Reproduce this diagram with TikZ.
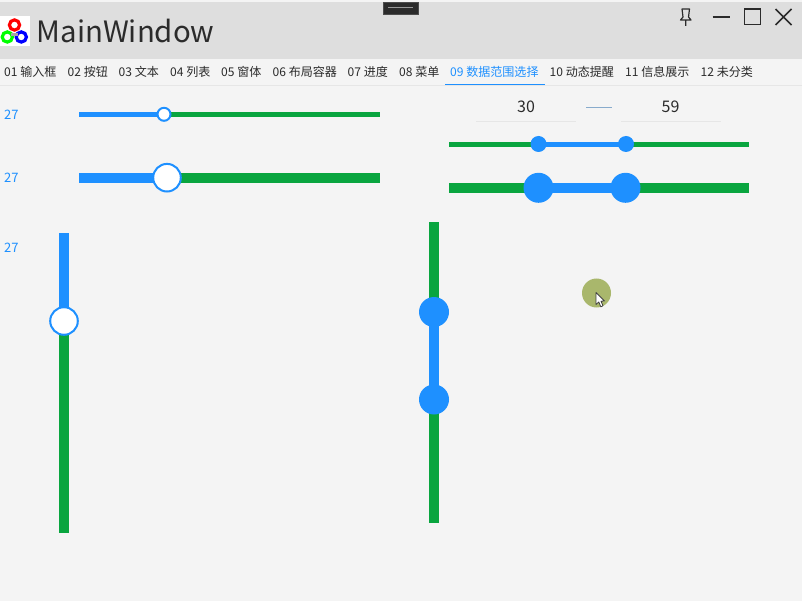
\documentclass[tikz,border=0pt]{standalone}
\usepackage{fontspec}
\setmainfont{Noto Sans CJK SC}
\definecolor{trackblue}{HTML}{1E90FF}
\definecolor{trackgreen}{HTML}{09A53F}
\definecolor{pagegray}{HTML}{F4F4F4}
\definecolor{titlegray}{HTML}{DEDEDE}
\definecolor{rulegray}{HTML}{E6E6E6}
\definecolor{inkgray}{HTML}{2B2B2B}
\definecolor{pointergreen}{HTML}{A9B76C}
\tikzset{
	tabtext/.style={anchor=base west, inner sep=0pt, text=inkgray, font=\fontsize{12.05}{14}\selectfont},
	valtext/.style={anchor=base west, inner sep=0pt, text=trackblue, font=\fontsize{13}{14}\selectfont},
	boxtext/.style={inner sep=0pt, text=inkgray, font=\fontsize{16}{18}\selectfont},
	thinknob/.style={draw=trackblue, line width=2pt, fill=white},
	fullknob/.style={fill=trackblue},
	ctrl/.style={draw=inkgray, line width=1.6pt}
}

\begin{document}
\begin{tikzpicture}[x=1pt, y=-1pt]
			\useasboundingbox (0, 0) rectangle (802, 601);
			%%%%% WINDOW %%%%%
			\fill[pagegray] (0, 0) rectangle (802, 601);
			\fill[titlegray] (0, 2) rectangle (802, 59);
			\fill[rulegray] (0, 85.5) rectangle (802, 86.5);
			\draw[fill=inkgray, draw=black!70] (383.5, 2.5) rectangle (418, 14);
			\draw[black!40, line width=1pt] (388, 8) -- (413, 8);

			%%%%% ICON %%%%%
			\fill[white] (0, 16) rectangle (30, 46.5);
			\draw[red, line width=3.2pt] (14.5, 25) circle (5.1);
			\draw[green, line width=3.2pt] (7.3, 37) circle (5.1);
			\draw[blue, line width=3.2pt] (21.3, 37) circle (5.1);
			\fill[black!35] (10.5, 33.5) rectangle (18, 36.5);

			\node[anchor=base west, inner sep=0pt, text=inkgray, font=\fontsize{29.4}{34}\selectfont] (title) at (36.5, 43) {MainWindow};

			%%%%% CONTROLS %%%%%
			\draw[ctrl, line width=1.2pt, line join=round] (682, 9) -- (689.5, 9) -- (688.5, 17) -- (691, 20) -- (680.5, 20) -- (683, 17) -- cycle (685.7, 20) -- (685.7, 26);
			\draw[ctrl] (712.5, 17) -- (730, 17);
			\draw[ctrl] (744.5, 9) rectangle (760.5, 24.5);
			\draw[ctrl] (775.5, 9) -- (791.5, 25) (791.5, 9) -- (775.5, 25);

			%%%%% TABS %%%%%
			\node[tabtext] (tabA) at (4, 76.5) {01 输入框};
			\node[tabtext] (tabB) at (67.5, 76.5) {02 按钮};
			\node[tabtext] (tabC) at (118.5, 76.5) {03 文本};
			\node[tabtext] (tabD) at (170, 76.5) {04 列表};
			\node[tabtext] (tabE) at (221, 76.5) {05 窗体};
			\node[tabtext] (tabF) at (272.5, 76.5) {06 布局容器};
			\node[tabtext] (tabG) at (347.5, 76.5) {07 进度};
			\node[tabtext] (tabH) at (399, 76.5) {08 菜单};
			\node[tabtext, text=trackblue] (tabI) at (450, 76.5) {09 数据范围选择};
			\node[tabtext] (tabJ) at (549.5, 76.5) {10 动态提醒};
			\node[tabtext] (tabK) at (625, 76.5) {11 信息展示};
			\node[tabtext] (tabL) at (700.5, 76.5) {12 未分类};
			\fill[trackblue] (445, 84) rectangle (544.5, 85.5);

			%%%%% VALUES %%%%%
			\node[valtext] (valA) at (4, 120) {27};
			\node[valtext] (valB) at (4, 183) {27};
			\node[valtext] (valC) at (4, 253) {27};

			%%%%% SLIDERS %%%%%
			\fill[trackgreen] (164, 111.8) rectangle (379.5, 117);
			\fill[trackblue] (79, 111.8) rectangle (164, 117);
			\draw[thinknob] (164, 114.3) circle (6.5);

			\fill[trackgreen] (167, 172.7) rectangle (379.5, 182.8);
			\fill[trackblue] (79, 172.7) rectangle (167, 182.8);
			\draw[thinknob] (167, 177.7) circle (13.8);

			\fill[trackgreen] (59, 321) rectangle (69, 533);
			\fill[trackblue] (59, 233) rectangle (69, 321);
			\draw[thinknob] (64, 321) circle (13.8);

			%%%%% RANGE %%%%%
			\node[boxtext] (lowbox) at (526, 106.5) {30};
			\node[boxtext] (highbox) at (670.5, 106.5) {59};
			\fill[rulegray] (476, 120.8) rectangle (576, 121.6);
			\fill[rulegray] (621, 120.8) rectangle (721, 121.6);
			\draw[trackblue!60!black!50, line width=0.6pt] (586, 107.5) -- (612, 107.5);

			\fill[trackgreen] (449, 141.8) rectangle (749, 147);
			\fill[trackblue] (538.5, 141.8) rectangle (626, 147);
			\fill[fullknob] (538.5, 144) circle (8);
			\fill[fullknob] (626, 144) circle (8);

			\fill[trackgreen] (449, 182.8) rectangle (749, 193);
			\fill[trackblue] (538.5, 182.8) rectangle (625.5, 193);
			\fill[fullknob] (538.5, 187.8) circle (15);
			\fill[fullknob] (625.5, 187.8) circle (15);

			\fill[trackgreen] (429, 222.5) rectangle (439, 522.5);
			\fill[trackblue] (429, 312) rectangle (439, 399.5);
			\fill[fullknob] (434, 312) circle (15);
			\fill[fullknob] (434, 399.5) circle (15);

			%%%%% POINTER %%%%%
			\fill[pointergreen] (596.5, 293) circle (14.5);
			\draw[fill=white, draw=black!75, line width=0.8pt, line join=round] (596, 292.5) -- (596, 304.5) -- (598.8, 302) -- (600.8, 306.8) -- (603, 305.8) -- (601, 301.2) -- (604.5, 301) -- cycle;
		\end{tikzpicture}
\end{document}
